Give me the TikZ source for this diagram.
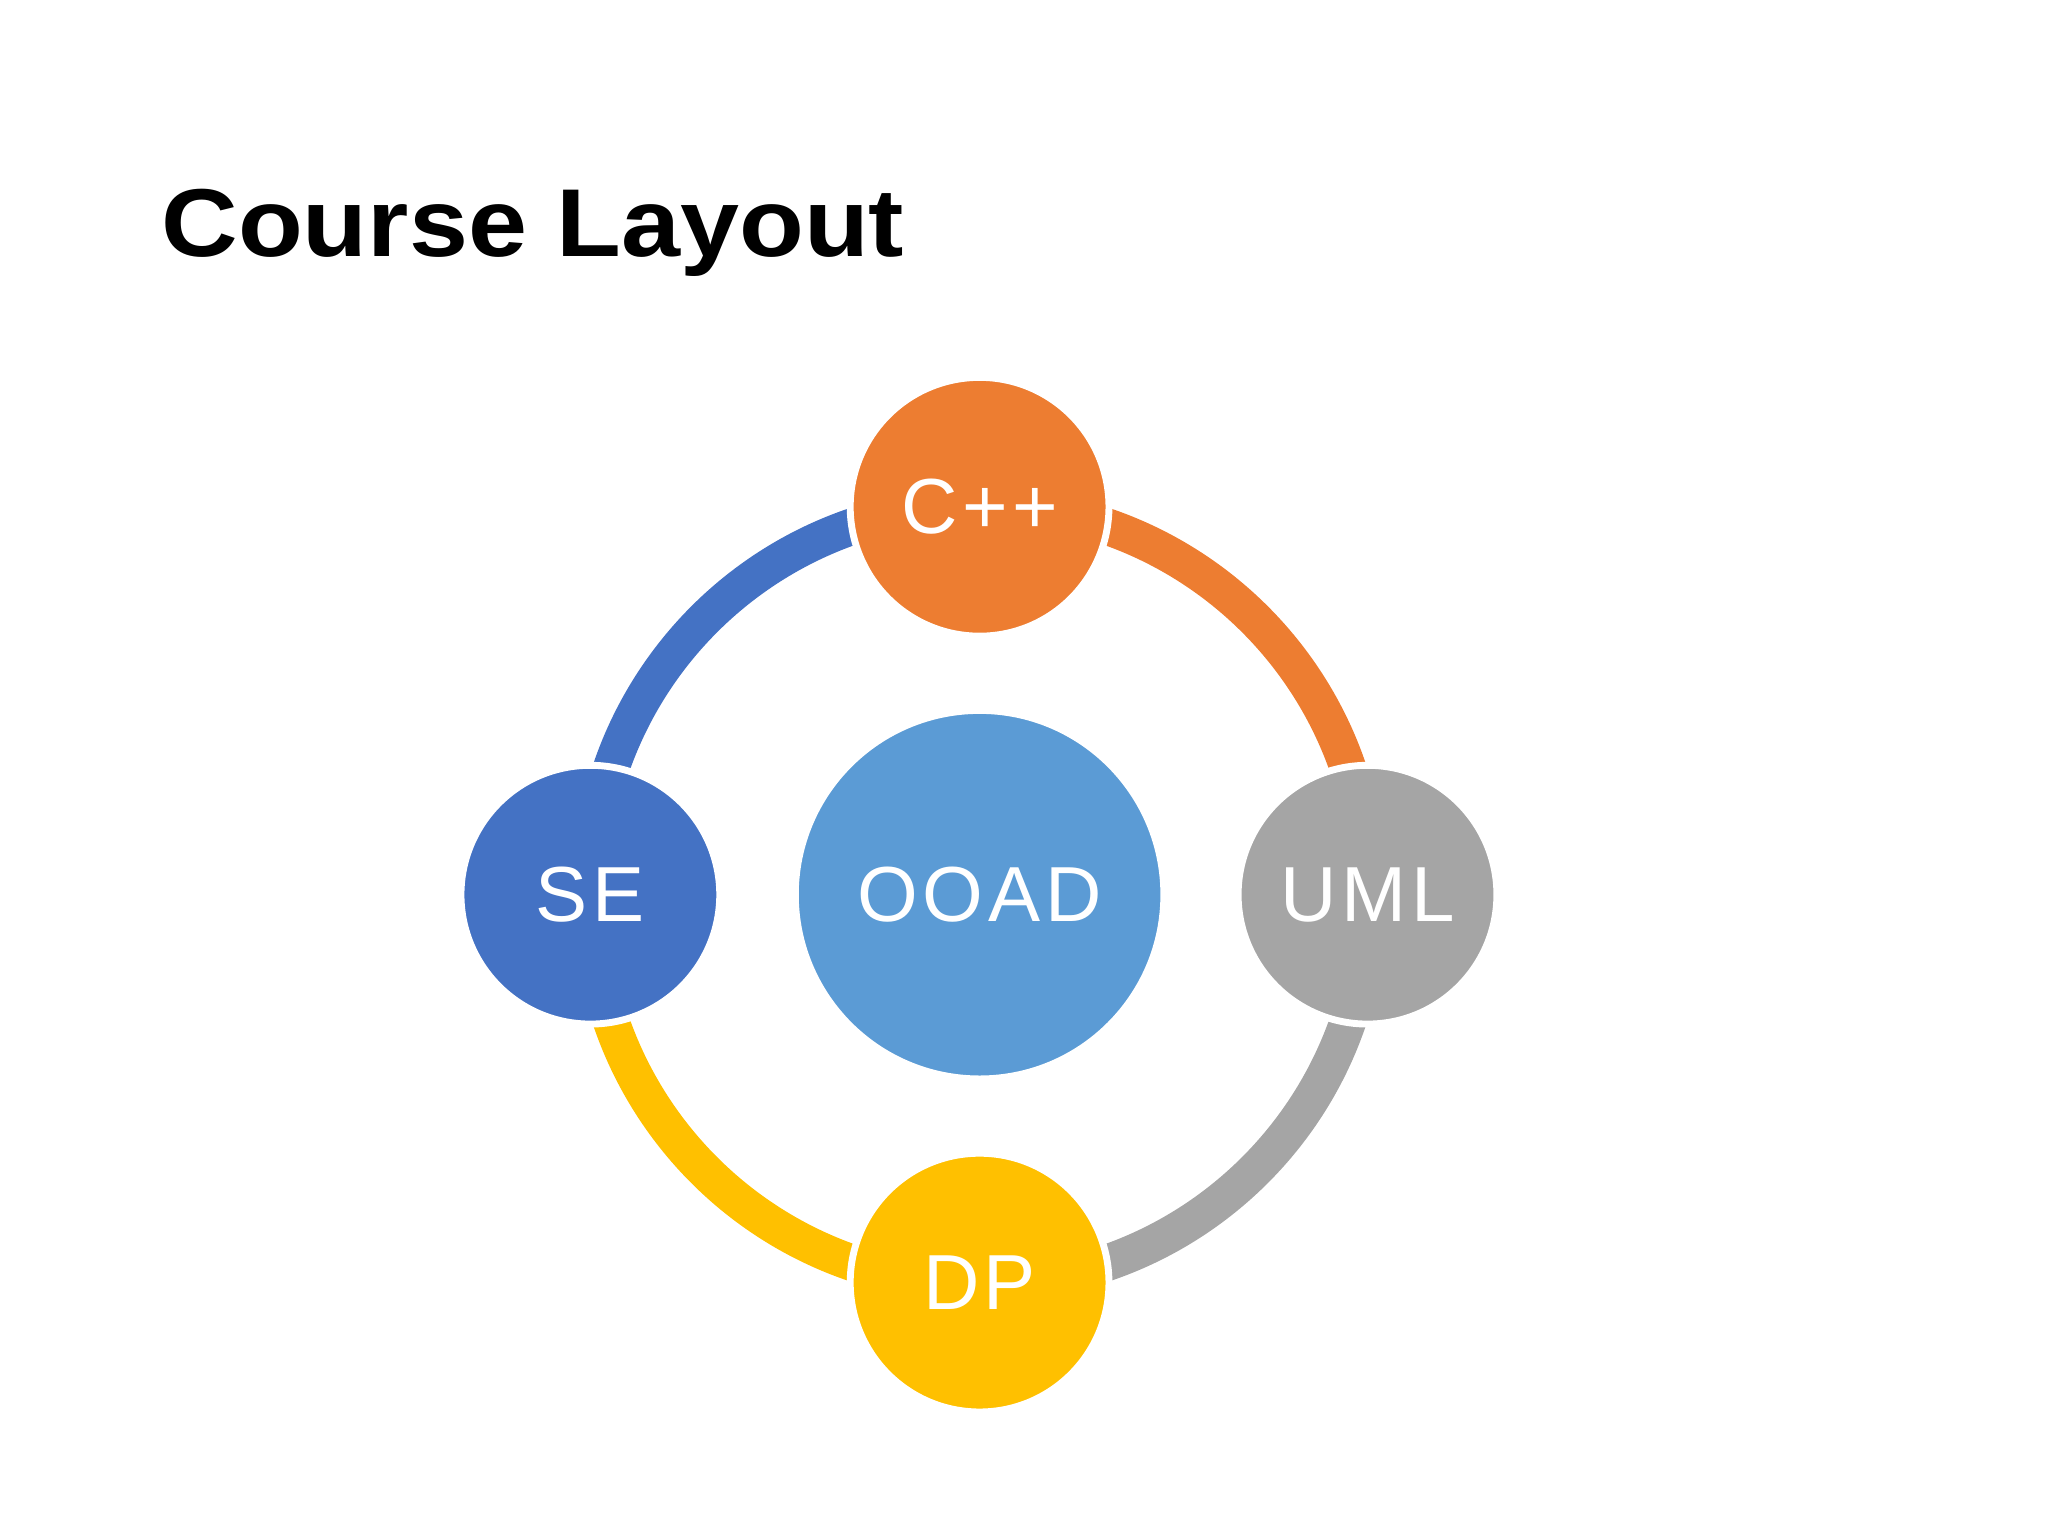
\documentclass[tikz,border=0pt]{standalone}
\usepackage{fontspec}
\setmainfont{Liberation Sans}
\newfontfamily\spacedfont[LetterSpace=6]{Liberation Sans}
\definecolor{ppBlue}{HTML}{4472C4}
\definecolor{ppOrange}{HTML}{ED7D31}
\definecolor{ppGray}{HTML}{A5A5A5}
\definecolor{ppYellow}{HTML}{FFC000}
\definecolor{ppLight}{HTML}{5B9BD5}
\begin{document}
\begin{tikzpicture}[x=0.01cm,y=-0.01cm,
    topic/.style={circle,draw=white,line width=1.5pt,minimum size=1.98cm,inner sep=0pt,text=white,font=\spacedfont\fontsize{17}{20}\selectfont},
    band/.style={line width=0.28cm}]
    \useasboundingbox (0,0) rectangle (1568,1176);

    % ring
    \draw[band,ppBlue]   (750,685) ++(180:2.98cm) arc (180:90:2.98cm);
    \draw[band,ppOrange] (750,685) ++(90:2.98cm) arc (90:0:2.98cm);
    \draw[band,ppGray]   (750,685) ++(0:2.98cm) arc (0:-90:2.98cm);
    \draw[band,ppYellow] (750,685) ++(-90:2.98cm) arc (-90:-180:2.98cm);

    \node[topic,fill=ppLight,minimum size=2.82cm] (ooad) at (750,685) {OOAD};
    \node[topic,fill=ppOrange] (cpp) at (750,388) {C++};
    \node[topic,fill=ppBlue] (se) at (452,685) {SE};
    \node[topic,fill=ppGray] (uml) at (1047,685) {UML};
    \node[topic,fill=ppYellow] (dp) at (750,982) {DP};

    \node[anchor=west,font=\bfseries\fontsize{21}{25}\selectfont,xscale=1.1] (title) at (110,178) {Course Layout};
\end{tikzpicture}
\end{document}
